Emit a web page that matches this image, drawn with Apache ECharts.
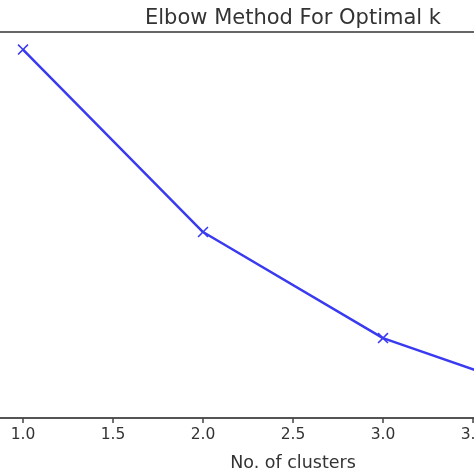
<!DOCTYPE html>
<html><head><meta charset="utf-8">
<script src="https://cdn.jsdelivr.net/npm/echarts@6/dist/echarts.min.js"></script>
<style>html,body{margin:0;padding:0;background:#fff;overflow:hidden;width:474px;height:474px}#c{position:absolute;left:-67px;top:0;width:720px;height:474px}</style>
</head><body><div id="c"></div>
<script>
const clusters = [1, 2, 3, 4];
const inertia = [100, 53.2, 26.0, 10];

const chart = echarts.init(document.getElementById('c'), null, {renderer: 'canvas'});
const font = 'DejaVu Sans';
chart.setOption({
  animation: false,
  title: {
    text: 'Elbow Method For Optimal k',
    left: 'center', top: 3,
    textStyle: {fontFamily: font, fontSize: 21, fontWeight: 'normal', color: '#333'}
  },
  grid: {left: 0, right: 0, top: 32, height: 386, show: true, borderColor: '#666', borderWidth: 2,
    containLabel: false, outerBoundsMode: 'none'},
  xAxis: {
    type: 'value', min: 0.5, max: 4.5, interval: 0.5,
    name: 'No. of clusters', nameLocation: 'middle', nameGap: 36,
    nameTextStyle: {fontFamily: font, fontSize: 17.5, color: '#333'},
    axisLine: {show: true, lineStyle: {color: '#555', width: 2}},
    axisTick: {show: true, inside: false, length: 5, lineStyle: {color: '#444', width: 1.5}},
    axisLabel: {fontFamily: font, fontSize: 15.5, color: '#333', margin: 9,
      formatter: v => v.toFixed(1)},
    splitLine: {show: false}
  },
  yAxis: {
    type: 'value', min: 5.5, max: 104.5,
    show: false, splitLine: {show: false}
  },
  series: [{
    type: 'line',
    data: clusters.map((k, i) => [k, inertia[i]]),
    lineStyle: {color: '#3a3af0', width: 2.5},
    itemStyle: {color: '#3a3af0'},
    symbol: 'path://M0,1 L1,0 L5,4 L9,0 L10,1 L6,5 L10,9 L9,10 L5,6 L1,10 L0,9 L4,5 Z',
    symbolSize: 11,
    showSymbol: true
  }]
});
</script></body></html>
